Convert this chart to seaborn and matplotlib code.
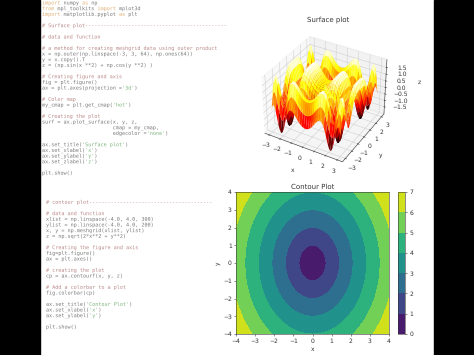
import re
import numpy as np
import matplotlib
matplotlib.use("Agg")
import matplotlib.pyplot as plt
import matplotlib.patheffects as pe
import seaborn as sns
from matplotlib.patches import Rectangle

W, H = 474, 355

top_code = [
 (0, "import numpy as np"),
 (1, "from mpl_toolkits import mplot3d"),
 (2, "import matplotlib.pyplot as plt"),
 (4, "# Surface plot" + "-" * 46),
 (6, "# data and function"),
 (8, "# a method for creating meshgrid data using outer product"),
 (9, "x = np.outer(np.linspace(-3, 3, 64), np.ones(64))"),
 (10, "y = x.copy().T"),
 (11, "z = (np.sin(x **2) + np.cos(y **2) )"),
 (13, "# Creating figure and axis"),
 (14, "fig = plt.figure()"),
 (15, "ax = plt.axes(projection ='3d')"),
 (17, "# Color map"),
 (18, "my_cmap = plt.get_cmap('hot')"),
 (20, "# Creating the plot"),
 (21, "surf = ax.plot_surface(x, y, z,"),
 (22, "                       cmap = my_cmap,"),
 (23, "                       edgecolor ='none')"),
 (25, "ax.set_title('Surface plot')"),
 (26, "ax.set_xlabel('x')"),
 (27, "ax.set_ylabel('y')"),
 (28, "ax.set_zlabel('z')"),
 (30, "plt.show()"),
]
bottom_code = [
 (0, "# contour plot" + "-" * 40),
 (2, "# data and function"),
 (3, "xlist = np.linspace(-4.0, 4.0, 300)"),
 (4, "ylist = np.linspace(-4.0, 4.0, 200)"),
 (5, "x, y = np.meshgrid(xlist, ylist)"),
 (6, "z = np.sqrt(2*x**2 + y**2)"),
 (8, "# Creating the figure and axis"),
 (9, "fig=plt.figure()"),
 (10, "ax = plt.axes()"),
 (12, "# creating the plot"),
 (13, "cp = ax.contourf(x, y, z)"),
 (15, "# Add a colorbar to a plot"),
 (16, "fig.colorbar(cp)"),
 (18, "ax.set_title('Contour Plot')"),
 (19, "ax.set_xlabel('x')"),
 (20, "ax.set_ylabel('y')"),
 (22, "plt.show()"),
]

surface_ticks = [-3, -2, -1, 0, 1, 2, 3]
surface_zticks = [-1.5, -1.0, -0.5, 0.0, 0.5, 1.0, 1.5]
contour_ticks = [-4, -3, -2, -1, 0, 1, 2, 3, 4]
contour_levels = [0, 1, 2, 3, 4, 5, 6, 7]

sns.set_theme(style="ticks", rc={
    "font.family": "DejaVu Sans", "font.size": 4.2,
    "axes.linewidth": 0.4, "xtick.major.width": 0.4, "ytick.major.width": 0.4,
    "xtick.major.size": 1.5, "ytick.major.size": 1.5,
    "xtick.labelsize": 4.2, "ytick.labelsize": 4.2, "axes.labelsize": 4.2, "axes.titlesize": 4.7,
    "text.color": "#333333", "axes.labelcolor": "#333333",
    "xtick.color": "#333333", "ytick.color": "#333333",
    "xtick.major.pad": 1.5, "ytick.major.pad": 1.5, "axes.edgecolor": "#333333",
    "text.hinting": "none", "text.hinting_factor": 1,
})

fig = plt.figure(figsize=(W / 100, H / 100), dpi=100, facecolor="white")

def frac(x0, y0, x1, y1):
    return [x0 / W, 1 - y1 / H, (x1 - x0) / W, (y1 - y0) / H]

fig.add_artist(Rectangle((0, 0), 40 / W, 1, transform=fig.transFigure, color="black", zorder=5))
fig.add_artist(Rectangle((434 / W, 0), 40 / W, 1, transform=fig.transFigure, color="black", zorder=5))

CW, LH = 3.08, 5.67
TOK = re.compile(r"('[^']*')|\b(import|from|as)\b")

def put(x, y, s, c):
    fig.text(x / W, 1 - (y + 1.5) / H, s, color=c, family="DejaVu Sans Mono", fontsize=3.68,
             va="baseline", ha="left", alpha=0.8, path_effects=[pe.Normal()])

def draw_code(lines, x0, y0):
    for n, s in lines:
        y = y0 + n * LH
        if s.startswith("#"):
            put(x0, y, s, "#a86a6a")
            continue
        pos = 0
        for m in TOK.finditer(s):
            if m.start() > pos and s[pos:m.start()].strip():
                put(x0 + pos * CW, y, s[pos:m.start()], "#555555")
            put(x0 + m.start() * CW, y, m.group(0), "#5aa05a" if m.group(1) else "#d89a50")
            pos = m.end()
        if s[pos:].strip():
            put(x0 + pos * CW, y, s[pos:], "#555555")

draw_code(top_code, 42, 3)
draw_code(bottom_code, 46, 202.3)

# Fields: the two formulas are those printed in the reference's code panel.
xs = np.linspace(-3, 3, 64)
X = np.outer(xs, np.ones(64))
Y = X.copy().T
Z = np.sin(X ** 2) + np.cos(Y ** 2)

ax3 = fig.add_axes(frac(254, 29, 393, 168), projection="3d")
ax3.patch.set_alpha(0)
ax3.set_box_aspect((4, 4, 3.0))
ax3.view_init(elev=35, azim=-60)
ax3.plot_surface(X, Y, Z, cmap=plt.get_cmap("hot"), edgecolor="none", shade=False)
ax3.set_xticks(surface_ticks)
ax3.set_yticks(surface_ticks)
ax3.set_zticks(surface_zticks)
ax3.tick_params(axis="both", pad=-4, labelsize=4.2)
ax3.tick_params(axis="z", pad=-1, labelsize=4.2)
ax3.set_xlabel("x", labelpad=-9.5)
ax3.set_ylabel("y", labelpad=-9.5)
ax3.set_zlabel("z", labelpad=-6)
for a in (ax3.xaxis, ax3.yaxis, ax3.zaxis):
    a._axinfo["grid"]["linewidth"] = 0.35
    a._axinfo["axisline"]["linewidth"] = 0.4
    a._axinfo["tick"]["linewidth"] = {True: 0.4, False: 0.3}
fig.text(328 / W, 1 - 19.5 / H, "Surface plot", ha="center", va="center", fontsize=4.7, color="#333333")

xl = np.linspace(-4.0, 4.0, 300)
yl = np.linspace(-4.0, 4.0, 200)
XX, YY = np.meshgrid(xl, yl)
ZZ = np.sqrt(2 * XX ** 2 + YY ** 2)

ax2 = fig.add_axes(frac(236, 192, 389, 334))
cp = ax2.contourf(XX, YY, ZZ, levels=contour_levels, cmap=sns.color_palette("viridis", as_cmap=True))
ax2.set_xticks(contour_ticks)
ax2.set_yticks(contour_ticks)
ax2.set_title("Contour Plot", pad=2.5)
ax2.set_xlabel("x", labelpad=1.5)
ax2.set_ylabel("y", labelpad=1.5)
cax = fig.add_axes(frac(398, 192, 405.3, 334))
cb = fig.colorbar(cp, cax=cax)
cb.set_ticks(contour_levels)
cb.outline.set_linewidth(0.4)

fig.savefig("out.png", dpi=100)
